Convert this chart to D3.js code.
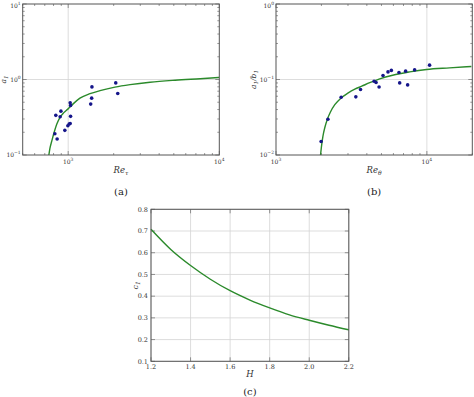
<!DOCTYPE html>
<html><head><meta charset="utf-8">
<script src="https://cdn.jsdelivr.net/npm/d3@7"></script>
<style>body{margin:0;background:#fff}svg{display:block}</style>
</head><body>
<svg id="chart" width="474" height="397"></svg>
<script>
// ---- Panel (a): a1 vs Re_tau ----
const aPointsRe  = [816, 845, 828, 885, 895, 950, 995, 1015, 1031, 1037, 1031, 1037, 1409, 1430, 1436, 2064, 2128];
const aPointsVal = [0.191, 0.163, 0.335, 0.321, 0.381, 0.212, 0.244, 0.257, 0.261, 0.325, 0.491, 0.454, 0.472, 0.566, 0.798, 0.902, 0.653];
const aCurveRe   = [745, 757, 780, 816, 841, 881, 936, 995, 1074, 1196, 1394, 1624, 2040, 2567, 3483, 5105, 7482, 10000];
const aCurveVal  = [0.100, 0.122, 0.155, 0.214, 0.257, 0.313, 0.364, 0.405, 0.472, 0.566, 0.649, 0.711, 0.791, 0.854, 0.921, 0.979, 1.025, 1.063];
const aXTicks = [1000, 10000];
const aYTicks = [0.1, 1, 10];

// ---- Panel (b): a1/b1 vs Re_theta ----
const bPointsRe  = [1991, 2208, 2704, 3381, 3633, 4467, 4605, 4822, 5120, 5525, 5816, 6532, 6602, 7230, 7455, 8294, 10420];
const bPointsVal = [0.0151, 0.0298, 0.0583, 0.0589, 0.0738, 0.0949, 0.0913, 0.0797, 0.113, 0.126, 0.132, 0.124, 0.0902, 0.129, 0.0848, 0.134, 0.155];
const bCurveRe   = [1973, 1999, 2046, 2109, 2190, 2291, 2453, 2689, 2994, 3329, 3701, 4182, 4868, 5929, 7691, 9954, 14130, 19720];
const bCurveVal  = [0.0100, 0.0127, 0.0177, 0.0233, 0.0298, 0.0369, 0.0464, 0.0565, 0.0659, 0.0745, 0.0815, 0.0907, 0.1019, 0.114, 0.126, 0.1357, 0.1425, 0.1486];
const bXTicks = [1000, 10000];
const bYTicks = [0.01, 0.1, 1];

// ---- Panel (c): c1 vs H ----
const cH   = [1.2, 1.3, 1.4, 1.5, 1.6, 1.7, 1.8, 1.9, 2.0, 2.1, 2.2];
const cVal = [0.708, 0.615, 0.541, 0.478, 0.425, 0.382, 0.346, 0.314, 0.289, 0.266, 0.245];
const cXTicks = [1.2, 1.4, 1.6, 1.8, 2.0, 2.2];
const cYTicks = [0.1, 0.2, 0.3, 0.4, 0.5, 0.6, 0.7, 0.8];

const svg = d3.select("#chart");
const FONT = "'DejaVu Serif', 'Liberation Serif', serif";
const FRAME = "#555";
const GRID = "#d4d4d4";
const LINE = "#2b8a2b";
const DOT = "#15158a";

function powLabel(sel, exp) {
  sel.append("tspan").text("10");
  sel.append("tspan").attr("dy", -3).attr("font-size", 4.5).text(exp);
}

function logPanel(id, box, xDom, yDom, xTicks, yTicks, gridX, gridY, px, py, cx, cy, yLabel, xLabel, cap) {
  const g = svg.append("g");
  const x = d3.scaleLog().domain(xDom).range([box.x0, box.x1]);
  const y = d3.scaleLog().domain(yDom).range([box.y1, box.y0]);
  g.append("line").attr("x1", x(gridX)).attr("x2", x(gridX)).attr("y1", box.y0).attr("y2", box.y1)
    .attr("stroke", GRID).attr("stroke-width", 0.8);
  g.append("line").attr("y1", y(gridY)).attr("y2", y(gridY)).attr("x1", box.x0).attr("x2", box.x1)
    .attr("stroke", GRID).attr("stroke-width", 0.8);
  const tk = g.append("g").attr("stroke", FRAME).attr("stroke-width", 0.6);
  x.ticks().forEach(v => {
    const major = Math.abs(Math.log10(v) - Math.round(Math.log10(v))) < 1e-9;
    const L = major ? 4 : 2;
    const xx = x(v);
    if (xx < box.x0 - 0.1 || xx > box.x1 + 0.1) return;
    tk.append("line").attr("x1", xx).attr("x2", xx).attr("y1", box.y1).attr("y2", box.y1 - L);
    tk.append("line").attr("x1", xx).attr("x2", xx).attr("y1", box.y0).attr("y2", box.y0 + L);
  });
  y.ticks().forEach(v => {
    const major = Math.abs(Math.log10(v) - Math.round(Math.log10(v))) < 1e-9;
    const L = major ? 4 : 2;
    const yy = y(v);
    tk.append("line").attr("y1", yy).attr("y2", yy).attr("x1", box.x0).attr("x2", box.x0 + L);
    tk.append("line").attr("y1", yy).attr("y2", yy).attr("x1", box.x1).attr("x2", box.x1 - L);
  });
  g.append("clipPath").attr("id", "clip" + id).append("rect")
    .attr("x", box.x0).attr("y", box.y0).attr("width", box.x1 - box.x0).attr("height", box.y1 - box.y0);
  const line = d3.line().x(d => x(d[0])).y(d => y(d[1])).curve(d3.curveMonotoneX);
  g.append("path").attr("clip-path", `url(#clip${id})`).datum(cx.map((v, i) => [v, cy[i]]))
    .attr("d", line).attr("fill", "none").attr("stroke", LINE).attr("stroke-width", 1.4);
  g.selectAll("circle.p").data(px.map((v, i) => [v, py[i]])).enter().append("circle")
    .attr("cx", d => x(d[0])).attr("cy", d => y(d[1])).attr("r", 1.8).attr("fill", DOT);
  g.append("rect").attr("x", box.x0).attr("y", box.y0).attr("width", box.x1 - box.x0).attr("height", box.y1 - box.y0)
    .attr("fill", "none").attr("stroke", FRAME).attr("stroke-width", 1);
  xTicks.forEach(v => {
    const t = g.append("text").attr("x", x(v)).attr("y", box.y1 + 9).attr("text-anchor", "middle")
      .attr("font-family", FONT).attr("font-size", 6).attr("fill", "#333");
    powLabel(t, Math.round(Math.log10(v)));
  });
  yTicks.forEach(v => {
    const e = Math.round(Math.log10(v));
    const t = g.append("text").attr("x", box.x0 - 2).attr("y", Math.max(y(v) + 2.3, 7.5)).attr("text-anchor", "end")
      .attr("font-family", FONT).attr("font-size", 6).attr("fill", "#333");
    powLabel(t, e < 0 ? "\u2212" + (-e) : e);
  });
  const yl = g.append("text").attr("transform", `translate(${yLabel.x},${(box.y0 + box.y1) / 2}) rotate(-90)`)
    .attr("text-anchor", "middle").attr("font-family", FONT).attr("font-size", 7.5).attr("font-style", "italic").attr("fill", "#333");
  yLabel.parts(yl);
  const xl = g.append("text").attr("x", (box.x0 + box.x1) / 2).attr("y", box.y1 + 18).attr("text-anchor", "middle")
    .attr("font-family", FONT).attr("font-size", 8.5).attr("font-style", "italic").attr("fill", "#333");
  xl.append("tspan").text(xLabel[0]);
  xl.append("tspan").attr("dy", 2).attr("font-size", 6).text(xLabel[1]);
  g.append("text").attr("x", (box.x0 + box.x1) / 2).attr("y", 195).attr("text-anchor", "middle")
    .attr("font-family", FONT).attr("font-size", 10).attr("fill", "#222").text(cap);
}

logPanel("a", {x0: 22.7, x1: 219.3, y0: 4, y1: 155}, [500, 10000], [0.1, 10], aXTicks, aYTicks, 1000, 1,
  aPointsRe, aPointsVal, aCurveRe, aCurveVal,
  {x: 5.5, parts: t => { t.append("tspan").text("a"); t.append("tspan").attr("dy", 2).attr("font-size", 5.5).text("1"); }},
  ["Re", "\u03c4"], "(a)");

logPanel("b", {x0: 276, x1: 472.3, y0: 4, y1: 155}, [1000, 20000], [0.01, 1], bXTicks, bYTicks, 10000, 0.1,
  bPointsRe, bPointsVal, bCurveRe, bCurveVal,
  {x: 256, parts: t => {
    t.append("tspan").text("a"); t.append("tspan").attr("dy", 2).attr("font-size", 5.5).text("1");
    t.append("tspan").attr("dy", -2).text("/b"); t.append("tspan").attr("dy", 2).attr("font-size", 5.5).text("1");
  }},
  ["Re", "\u03b8"], "(b)");

// ---- Panel (c) ----
(function () {
  const box = {x0: 151, x1: 348.8, y0: 209.3, y1: 361.3};
  const g = svg.append("g");
  const x = d3.scaleLinear().domain([1.2, 2.2]).range([box.x0, box.x1]);
  const y = d3.scaleLinear().domain([0.1, 0.8]).range([box.y1, box.y0]);
  cXTicks.forEach(v => g.append("line").attr("x1", x(v)).attr("x2", x(v)).attr("y1", box.y0).attr("y2", box.y1)
    .attr("stroke", GRID).attr("stroke-width", 0.8));
  cYTicks.forEach(v => g.append("line").attr("y1", y(v)).attr("y2", y(v)).attr("x1", box.x0).attr("x2", box.x1)
    .attr("stroke", GRID).attr("stroke-width", 0.8));
  const tk = g.append("g").attr("stroke", FRAME).attr("stroke-width", 0.6);
  cXTicks.forEach(v => {
    tk.append("line").attr("x1", x(v)).attr("x2", x(v)).attr("y1", box.y1).attr("y2", box.y1 - 4);
    tk.append("line").attr("x1", x(v)).attr("x2", x(v)).attr("y1", box.y0).attr("y2", box.y0 + 4);
  });
  cYTicks.forEach(v => {
    tk.append("line").attr("y1", y(v)).attr("y2", y(v)).attr("x1", box.x0).attr("x2", box.x0 + 4);
    tk.append("line").attr("y1", y(v)).attr("y2", y(v)).attr("x1", box.x1).attr("x2", box.x1 - 4);
  });
  const line = d3.line().x(d => x(d[0])).y(d => y(d[1])).curve(d3.curveMonotoneX);
  g.append("path").datum(cH.map((v, i) => [v, cVal[i]])).attr("d", line)
    .attr("fill", "none").attr("stroke", LINE).attr("stroke-width", 1.4);
  g.append("rect").attr("x", box.x0).attr("y", box.y0).attr("width", box.x1 - box.x0).attr("height", box.y1 - box.y0)
    .attr("fill", "none").attr("stroke", FRAME).attr("stroke-width", 1);
  cXTicks.forEach(v => g.append("text").attr("x", x(v)).attr("y", box.y1 + 8).attr("text-anchor", "middle")
    .attr("font-family", FONT).attr("font-size", 6.5).attr("fill", "#333").text(v.toFixed(1)));
  cYTicks.forEach(v => g.append("text").attr("x", box.x0 - 3).attr("y", y(v) + 2.3).attr("text-anchor", "end")
    .attr("font-family", FONT).attr("font-size", 6.5).attr("fill", "#333").text(v.toFixed(1)));
  const yl = g.append("text").attr("transform", `translate(138,${(box.y0 + box.y1) / 2}) rotate(-90)`)
    .attr("text-anchor", "middle").attr("font-family", FONT).attr("font-size", 8).attr("font-style", "italic").attr("fill", "#333");
  yl.append("tspan").text("c"); yl.append("tspan").attr("dy", 2).attr("font-size", 6).text("1");
  g.append("text").attr("x", (box.x0 + box.x1) / 2).attr("y", 377).attr("text-anchor", "middle")
    .attr("font-family", FONT).attr("font-size", 8.5).attr("font-style", "italic").attr("fill", "#333").text("H");
  g.append("text").attr("x", (box.x0 + box.x1) / 2).attr("y", 395).attr("text-anchor", "middle")
    .attr("font-family", FONT).attr("font-size", 10).attr("fill", "#222").text("(c)");
})();
</script>
</body></html>
